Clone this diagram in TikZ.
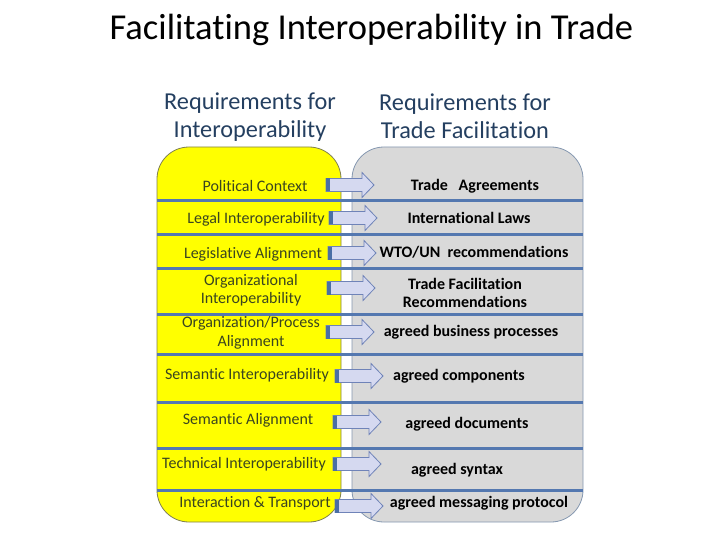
\documentclass[tikz,border=0pt]{standalone}
\usepackage{fontspec}
\setmainfont{Carlito}[Ligatures={NoCommon}]
\definecolor{ybox}{HTML}{FFFF00}
\definecolor{yborder}{HTML}{7F7F50}
\definecolor{gbox}{HTML}{D9D9D9}
\definecolor{gborder}{HTML}{8497B0}
\definecolor{sepline}{HTML}{5478B0}
\definecolor{arrfill}{HTML}{D5D9F0}
\definecolor{arrdraw}{HTML}{6F83B8}
\definecolor{arrbar}{HTML}{4A6FA5}
\definecolor{headcol}{HTML}{243F60}
\definecolor{leftcol}{HTML}{3A4520}
\tikzset{
  titletext/.style={font=\fontsize{36.5}{40}\selectfont, text=black},
  headtext/.style={font=\fontsize{24.3}{28.5}\selectfont, text=headcol, align=center},
  lefttext/.style={font=\fontsize{16}{18.5}\selectfont, text=leftcol, align=center, inner sep=0pt},
  righttext/.style={font=\fontsize{16}{18.5}\selectfont\bfseries, text=black, align=center, inner sep=0pt},
  rowline/.style={draw=sepline, line width=3pt},
  blockarrow/.style={fill=arrfill, draw=arrdraw, line width=0.8pt, line join=miter},
  tailbar/.style={fill=arrbar, draw=none},
}
\newcommand{\blockarr}[2]{%
  \path[blockarrow] (#1,#2-6.5) -- (#1+36,#2-6.5) -- (#1+36,#2-12.5) -- (#1+48,#2) -- (#1+36,#2+12.5) -- (#1+36,#2+6.5) -- (#1,#2+6.5) -- cycle;
  \path[tailbar] (#1,#2-6.5) rectangle (#1+4,#2+6.5);
}
\begin{document}
\begin{tikzpicture}[x=1pt,y=-1pt]
\useasboundingbox (0,0) rectangle (720,540);
% boxes
\path[fill=ybox, draw=yborder, line width=0.8pt, rounded corners=32pt] (157,147) rectangle (341,522);
\path[fill=gbox, draw=gborder, line width=0.8pt, rounded corners=32pt] (352,147) rectangle (583,522);
% separating lines
\foreach \yy in {201,234,268,314,354,402,448,490}
  \draw[rowline] (157,\yy) -- (583,\yy);
% title and headers
\node[titletext] (title) at (371.5,30) {Facilitating Interoperability in Trade};
\node[headtext] (hl) at (250,117) {Requirements for\\Interoperability};
\node[headtext] (hr) at (465,116) {Requirements for\\Trade Facilitation};
% arrows
\blockarr{326}{185}
\blockarr{329}{218}
\blockarr{328}{253}
\blockarr{327}{288}
\blockarr{326}{332}
\blockarr{335}{376}
\blockarr{333}{422}
\blockarr{333}{464}
\blockarr{335}{506}
% left texts
\node[lefttext] (l1) at (255,186) {Political Context};
\node[lefttext] (l2) at (256,219) {Legal Interoperability};
\node[lefttext] (l3) at (253,254) {Legislative Alignment};
\node[lefttext] (l4) at (251,290) {Organizational\\Interoperability};
\node[lefttext] (l5) at (251,333) {Organization/Process\\Alignment};
\node[lefttext] (l6) at (247,375) {Semantic Interoperability};
\node[lefttext] (l7) at (248,420) {Semantic Alignment};
\node[lefttext] (l8) at (244,464) {Technical Interoperability};
\node[lefttext] (l9) at (255,503) {Interaction \& Transport};
% right texts
\node[righttext] (r1) at (475,186) {Trade\ \ \ Agreements};
\node[righttext] (r2) at (469,218) {International Laws};
\node[righttext] (r3) at (474,252) {WTO/UN\ \ recommendations};
\node[righttext] (r4) at (465,293) {Trade Facilitation\\Recommendations};
\node[righttext] (r5) at (471,332) {agreed business processes};
\node[righttext] (r6) at (459,376) {agreed components};
\node[righttext] (r7) at (467,424) {agreed documents};
\node[righttext] (r8) at (457,470) {agreed syntax};
\node[righttext] (r9) at (479,503) {agreed messaging protocol};
\end{tikzpicture}
\end{document}
